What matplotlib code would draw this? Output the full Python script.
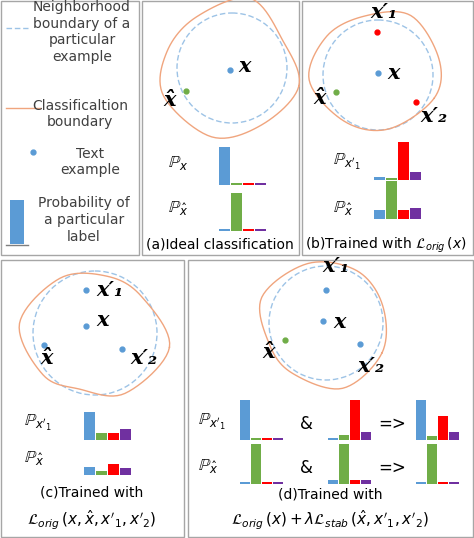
import numpy as np
import matplotlib
matplotlib.use("Agg")
import matplotlib.pyplot as plt
from matplotlib.patches import Rectangle, Circle

W, H = 474, 538
BLUE, GREEN, RED, PURPLE = "#5b9bd5", "#70ad47", "#ff0000", "#7030a0"
ORANGE, DASH = "#f0a57e", "#9dc3e6"
bar_colors = [BLUE, GREEN, RED, PURPLE]

# bar heights (relative)
a_px = [1.0, 0.06, 0.05, 0.05]
a_pxh = [0.05, 1.0, 0.05, 0.05]
b_px1 = [0.08, 0.06, 1.0, 0.2]
b_pxh = [0.25, 1.0, 0.25, 0.3]
c_px1 = [1.0, 0.25, 0.25, 0.38]
c_pxh = [0.3, 0.15, 0.4, 0.25]
d_r1 = [[1.0, 0.05, 0.05, 0.05], [0.05, 0.12, 1.0, 0.2], [1.0, 0.1, 0.6, 0.2]]
d_r2 = [[0.05, 1.0, 0.05, 0.05], [0.1, 1.0, 0.1, 0.1], [0.05, 1.0, 0.05, 0.05]]

XH = "x\u0302"
X1 = "x\u2032\u2081"
X2 = "x\u2032\u2082"

fig = plt.figure(figsize=(W / 100, H / 100), dpi=100)
ax = fig.add_axes([0, 0, 1, 1])
ax.set_xlim(0, W)
ax.set_ylim(H, 0)
ax.axis("off")


def box(x0, y0, x1, y1):
    ax.add_patch(Rectangle((x0, y0), x1 - x0, y1 - y0, fill=False, ec="#a6a6a6", lw=1))


def blob(cx, cy, radii, rot=0.0):
    # periodic Catmull-Rom through control points at equal angles
    n = len(radii[0])
    ang = np.linspace(0, 2 * np.pi, n, endpoint=False) + rot
    p = np.c_[cx + np.array(radii[0]) * np.cos(ang), cy + np.array(radii[1]) * np.sin(ang)]
    pts = []
    for i in range(n):
        p0, p1, p2, p3 = p[i - 1], p[i], p[(i + 1) % n], p[(i + 2) % n]
        for t in np.linspace(0, 1, 12, endpoint=False):
            t2, t3 = t * t, t * t * t
            pts.append(0.5 * (2 * p1 + (-p0 + p2) * t + (2 * p0 - 5 * p1 + 4 * p2 - p3) * t2
                              + (-p0 + 3 * p1 - 3 * p2 + p3) * t3))
    pts.append(pts[0])
    pts = np.array(pts)
    ax.plot(pts[:, 0], pts[:, 1], color=ORANGE, lw=1)


def circ(cx, cy, r):
    ax.add_patch(Circle((cx, cy), r, fill=False, ec=DASH, lw=1, ls=(0, (4, 2))))


def dot(x, y, c=BLUE):
    ax.plot(x, y, "o", color=c, ms=3.5)


def lbl(x, y, s, fs=15):
    ax.text(x, y, s, fontsize=fs, fontweight="bold", fontstyle="italic", family="DejaVu Serif",
            ha="left", va="center")


def bars(x0, ybase, vals, h=38, w=11, gap=1):
    xs = x0 + np.arange(len(vals)) * (w + gap)
    ax.bar(xs, -np.array(vals) * h, width=w, bottom=ybase, color=bar_colors, align="edge")


def plabel(x, y, sub):
    ax.text(x, y, r"$\mathbb{P}_{" + sub + "}$", fontsize=12, ha="left", va="center")


# panels
box(1, 1, 139, 255)
box(142, 1, 299, 255)
box(302, 1, 473, 255)
box(1, 260, 184, 537)
box(188, 260, 473, 537)

# legend panel
ax.plot([6, 28], [28, 28], color=DASH, lw=1, ls=(0, (4, 2)))
ax.text(82, 32, "Neighborhood\nboundary of a\nparticular\nexample", fontsize=10, ha="center", va="center",
        color="#404040", linespacing=1.25)
ax.plot([6, 40], [108, 108], color=ORANGE, lw=1)
ax.text(80, 114, "Classificaltion\nboundary", fontsize=10, ha="center", va="center", color="#404040",
        linespacing=1.25)
dot(33, 152)
ax.text(90, 162, "Text\nexample", fontsize=10, ha="center", va="center", color="#404040", linespacing=1.25)
ax.bar(10, -44, width=14, bottom=244, color=BLUE, align="edge")
ax.plot([6, 28], [245, 245], color="#7f7f7f", lw=1)
ax.text(84, 220, "Probability of\na particular\nlabel", fontsize=10, ha="center", va="center", color="#404040",
        linespacing=1.25)

# (a)
circ(232, 68, 55)
blob(230, 70, ([72, 68, 62, 75, 66, 72, 68, 60], [55, 62, 70, 56, 62, 60, 75, 62]), 0.3)
dot(230, 70)
lbl(238, 66, "x")
dot(186, 91, GREEN)
lbl(163, 100, XH)
plabel(168, 163, "x")
bars(219, 185, a_px)
plabel(168, 208, r"\hat{x}")
bars(219, 231, a_pxh)
ax.text(220, 245, "(a)Ideal classification", fontsize=10, ha="center", va="center")

# (b)
circ(378, 75, 55)
blob(378, 70, ([68, 58, 60, 70, 62, 70, 58, 62], [50, 60, 62, 55, 60, 55, 66, 60]), 0.6)
dot(378, 73)
lbl(387, 73, "x")
dot(377, 32, RED)
lbl(370, 12, X1)
dot(416, 102, RED)
lbl(420, 116, X2)
dot(336, 92, GREEN)
lbl(313, 98, XH)
plabel(333, 162, "x'_1")
bars(374, 180, b_px1)
plabel(333, 208, r"\hat{x}")
bars(374, 219, b_pxh)
ax.text(386, 245, r"(b)Trained with $\mathcal{L}_{orig}\,(x)$", fontsize=10, ha="center", va="center")

# (c)
circ(95, 333, 62)
blob(93, 335, ([78, 58, 72, 60, 75, 60, 70, 58], [62, 70, 55, 72, 58, 68, 60, 70]), 0.2)
dot(86, 290)
lbl(96, 290, X1)
dot(86, 326)
lbl(96, 320, "x")
dot(122, 349)
lbl(130, 358, X2)
dot(44, 345)
lbl(40, 358, XH)
plabel(24, 423, "x'_1")
bars(84, 440, c_px1, h=28)
plabel(24, 458, r"\hat{x}")
bars(84, 475, c_pxh, h=28)
ax.text(92, 492, "(c)Trained with", fontsize=10, ha="center", va="center")
ax.text(92, 520, r"$\mathcal{L}_{orig}\,(x, \hat{x}, x'_1, x'_2)$",
        fontsize=11, ha="center", va="center")

# (d)
circ(326, 323, 57)
blob(325, 325, ([65, 62, 68, 58, 72, 62, 66, 60], [58, 66, 55, 68, 58, 64, 62, 70]), 0.5)
dot(326, 290)
lbl(322, 266, X1)
dot(323, 321)
lbl(333, 322, "x")
dot(360, 344)
lbl(357, 366, X2)
dot(285, 340, GREEN)
lbl(262, 352, XH)
for rows, ybase, sub in [(d_r1, 440, "x'_1"), (d_r2, 484, r"\hat{x}")]:
    plabel(198, ybase - 18, sub)
    for k, xs in enumerate([240, 328, 416]):
        bars(xs, ybase, rows[k], h=40, w=10)
    ax.text(300, ybase - 16, "&", fontsize=12, ha="left", va="center")
    ax.text(378, ybase - 16, "=>", fontsize=12, ha="left", va="center")
ax.text(330, 495, "(d)Trained with", fontsize=10, ha="center", va="center")
ax.text(330, 520, r"$\mathcal{L}_{orig}\,(x)+\lambda\mathcal{L}_{stab}\,(\hat{x}, x'_1, x'_2)$",
        fontsize=11, ha="center", va="center")

fig.savefig("out.png", dpi=100)
